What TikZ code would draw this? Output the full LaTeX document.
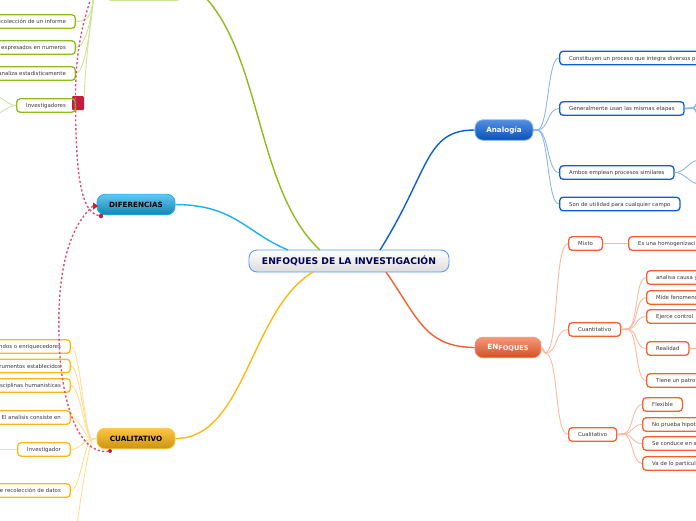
\documentclass[tikz,border=0pt]{standalone}
\usepackage{fontspec}
\setmainfont{DejaVu Sans}
\usetikzlibrary{shapes.geometric}
\definecolor{bluec}{HTML}{0A5FD8}
\definecolor{bluel}{HTML}{8DB6EE}
\definecolor{redc}{HTML}{F4602F}
\definecolor{redl}{HTML}{FBB8A2}
\definecolor{greenc}{HTML}{8CBD1A}
\definecolor{greenl}{HTML}{CDE39A}
\definecolor{orangec}{HTML}{FDB813}
\definecolor{orangel}{HTML}{FEDD94}
\definecolor{cyanc}{HTML}{1CB0EE}
\definecolor{markc}{HTML}{C41E3A}
\definecolor{dashc}{HTML}{D6546F}
\tikzset{
  leaf/.style={draw,rounded corners=3.5pt,line width=1.3pt,minimum height=13.5pt,yshift=-.5pt,
    text height=4pt,text depth=0pt,
    inner xsep=9.5pt,inner ysep=0pt,text=black!78,font=\fontsize{5.4}{6}\selectfont},
  main/.style={draw,rounded corners=8pt,line width=.8pt,minimum height=20.5pt,
    inner ysep=0pt,font=\fontsize{7.2}{8}\selectfont\bfseries},
  link/.style={line width=.9pt},
  trunk/.style={line width=1.4pt},
  stub/.style={line width=1.8pt},
  relation/.style={dashc,line width=1.4pt,dash pattern=on 2.2pt off 2.2pt},
  marker/.style={fill=markc,inner sep=0pt,minimum size=4.5pt,circle}
}
\begin{document}
\begin{tikzpicture}[x=1pt,y=-1pt]
  \useasboundingbox(0,0)rectangle(696,520);
  \node[fill=markc,rounded corners=1pt,inner sep=0pt,minimum width=12pt,minimum height=14pt](note) at(78,103){};
  % central topic
  \node[draw=cyanc!65!blue!70,line width=.9pt,rounded corners=8pt,top color=white,bottom color=black!14,
    minimum width=200pt,minimum height=22pt,inner sep=0pt,text=blue!35!black,
    font=\fontsize{9.2}{10}\selectfont\bfseries](root) at(349,261){ENFOQUES DE LA INVESTIGACIÓN};
  \coordinate(rootg) at(320,250);
  \coordinate(rootc) at(288,250);
  \coordinate(rootb) at(380,250);
  \coordinate(rooto) at(313,272);
  \coordinate(rootr) at(386,272);
  % main topics
  \node[main,draw=bluel,top color=bluec!70!white,bottom color=bluec!85!black,text=white,minimum width=58pt](analogia) at(504,130){Analogía};
  \node[main,draw=redc!70!white,top color=redc!65!white,bottom color=redc!85!black,text=white,minimum width=66pt](enfoques) at(508,347.5){\raisebox{.7pt}{EN}{\fontsize{6.6}{7}\selectfont FOQUES}};
  \node[main,draw=cyanc,top color=cyanc!70!white,bottom color=cyanc!75!black,text=black,minimum width=78pt](diferencias) at(136,204.5){DIFERENCIAS};
  \node[main,draw=orangec!80!white,top color=orangec!80!white,bottom color=orangec!80!black,text=black,minimum width=78pt](cualitativo) at(136,438.5){CUALITATIVO};
  \node[draw=greenl,line width=1pt,rounded corners=3pt,minimum width=72pt,minimum height=22pt,inner sep=0pt](greentop) at(144,-10.5){};
  % leaves
  \foreach \n/\x/\y/\t in{%
    constituyen/559/57.5/Constituyen un proceso que integra diversos p,
    generalmente/559/108/Generalmente usan las mismas etapas,
    ambos/559/172/Ambos emplean procesos similares,
    son/559/203.5/Son de utilidad para cualquier campo}{%
    \node[leaf,draw=bluec,anchor=west](\n) at(\x,\y){\t};
  }
  \foreach \n/\x/\y/\t in{%
    mixto/568/243/Mixto, homog/628/243/Es una homogenizaci,
    cuanti/568/329/Cuantitativo, causa/646/277/analisa causa y,
    mide/646/297/Mide fenomeno, ejerce/646/316/Ejerce control,
    realidad/646/348/Realidad, patron/646/380/Tiene un patro,
    cuali/568/434/Cualitativo, flexible/642/404/Flexible,
    prueba/642/424/No prueba hipot, conduce/642/443/Se conduce en a,
    particular/642/463/Va de lo particul}{%
    \node[leaf,draw=redc,anchor=west](\n) at(\x,\y){\t};
  }
  \foreach \n/\y/\t in{%
    informe/21/ecolección de un informe,
    numeros/47/expresados en numeros,
    analiza/73/analiza estadisticamente}{%
    \node[leaf,draw=greenc,anchor=east](\n) at(76,\y){\t};
  }
  \node[leaf,draw=greenc,anchor=east](investigadores) at(76,105){Investigadores};
  \foreach \n/\y/\t in{%
    enrique/346/ndos o enriquecedores,
    instr/365.5/rumentos establecidos,
    disc/385/sciplinas humanisticas,
    consiste/417/El analisis consiste en,
    investigador/449/Investigador,
    recoleccion/490/e recolección de datos}{%
    \node[leaf,draw=orangec,anchor=east](\n) at(71,\y){\t};
  }
  % free ends
  \coordinate(greenhub) at(94,-8);
  \coordinate(orangeoff) at(74,545);
  \coordinate(bh) at(537,130);
  \coordinate(rh) at(545,353);
  \coordinate(ch) at(92,439);
  \coordinate(cth) at(627,329);
  \coordinate(clh) at(623,434);
  \coordinate(gh) at(692,108);
  % trunks
  \draw[trunk,bluec](rootb) .. controls (430,170) and (425,130) .. (analogia.west);
  \draw[trunk,redc](rootr) .. controls (418,318) and (425,347) .. (enfoques.west);
  \draw[trunk,cyanc](diferencias.east) .. controls (235,205) and (245,232) .. (rootc);
  \draw[trunk,orangec](cualitativo.east) .. controls (245,439) and (250,310) .. (rooto);
  \draw[trunk,greenc](200,-8) .. controls (262,50) and (255,190) .. (rootg);
  \draw[stub,bluel](analogia.east)--(bh);
  \draw[stub,redl](enfoques.east)--(rh);
  \draw[stub,orangel](cualitativo.west)--(ch);
  \draw[stub,redl](cuanti.east)--(cth);
  \draw[stub,redl](cuali.east)--(clh);
  \draw[stub,bluel](generalmente.east)--(gh);
  % branches
  \foreach \a in{constituyen,generalmente,ambos,son}{%
    \draw[link,bluel](bh) .. controls +(12,0) and +(-12,0) .. (\a.west);
  }
  \foreach \a in{mixto,cuanti,cuali}{%
    \draw[link,redl](rh) .. controls +(14,0) and +(-14,0) .. (\a.west);
  }
  \draw[link,redl](mixto.east)--(homog.west);
  \foreach \a in{causa,mide,ejerce,realidad,patron}{%
    \draw[link,redl](cth) .. controls +(11,0) and +(-11,0) .. (\a.west);
  }
  \foreach \a in{flexible,prueba,conduce,particular}{%
    \draw[link,redl](clh) .. controls +(10,0) and +(-10,0) .. (\a.west);
  }
  \draw[link,redl](realidad.east)--+(10,0);
  \foreach \y in{100,104,112,116}{\draw[link,bluel](gh) .. controls +(4,0) and +(-4,0) .. (700,\y);}
  \foreach \y in{160,184}{\draw[link,bluel](ambos.east) .. controls +(11,0) and +(-11,0) .. (700,\y);}
  \foreach \a in{informe,numeros,analiza}{%
    \draw[link,greenl](\a.east) .. controls +(9,0) and +(-2,28) .. (greenhub);
  }
  \draw[link,greenl](note.north east) .. controls (85,70) and (90,25) .. (greenhub);
  \foreach \y in{96,114}{\draw[link,greenl](investigadores.west) .. controls +(-8,0) and +(8,0) .. (-6,\y);}
  \foreach \a in{enrique,instr,disc,consiste,investigador,recoleccion}{%
    \draw[link,orangel](\a.east) .. controls +(9,0) and +(-7,0) .. (ch);
  }
  \draw[link,orangel](ch) .. controls (85,465) and (80,505) .. (orangeoff);
  \draw[link,orangel](investigador.west)--+(-24,0);
  % relations
  \node[marker](diffdot) at(101,216){};
  \node[marker,minimum size=4pt](cualdot) at(110,451){};
  \node[isosceles triangle,fill=markc,inner sep=0pt,minimum height=4pt,minimum width=7pt,isosceles triangle apex angle=70](diffarrow) at(95,206){};
  \coordinate(relup) at(92,-5);
  \draw[relation](diffdot) .. controls (80,212) and (76,170) .. (75.5,105) .. controls (75,60) and (80,30) .. (relup);
  \draw[relation](diffarrow.west) .. controls (60,235) and (58,300) .. (59,335) .. controls (60,400) and (78,455) .. (cualdot);
\end{tikzpicture}
\end{document}
